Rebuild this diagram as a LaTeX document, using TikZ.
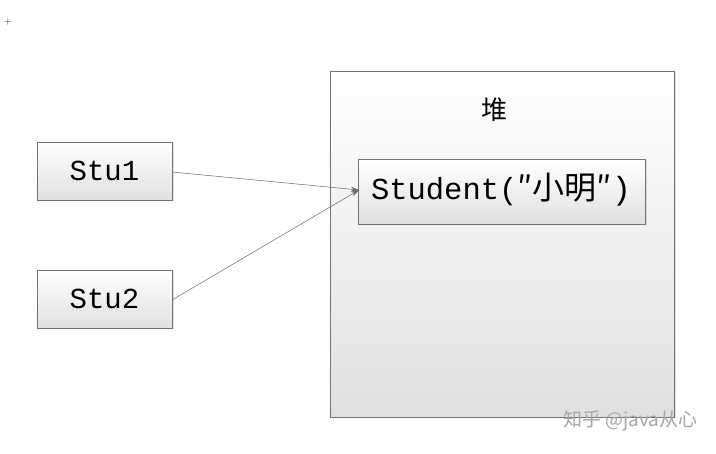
\documentclass[tikz,border=0pt]{standalone}
\usepackage{fontspec}
\setmonofont{Liberation Mono}
\newfontfamily\cjk{Noto Sans CJK SC}
\usetikzlibrary{shadows,arrows.meta}
\begin{document}
\begin{tikzpicture}[x=1pt,y=-1pt,
  gbox/.style={draw=black!55,line width=0.6pt,top color=white,bottom color=black!12,
    drop shadow={shadow xshift=1.5pt,shadow yshift=-1.5pt,opacity=0.25},inner sep=0pt},
  lbl/.style={font=\ttfamily\fontsize{29}{31}\selectfont},
  arr/.style={draw=black!60,line width=0.5pt,-{Stealth[length=8pt,width=5pt]}}]
\useasboundingbox[fill=white] (0,0) rectangle (716,454);
\node[text=blue!60!black,font=\fontsize{10}{10}\selectfont] (plus) at (8,22) {+};
\draw[gbox] (330,71) rectangle (674,417);
\node[font=\cjk\fontsize{26}{28}\selectfont] (heap) at (494,110) {堆};
\draw[gbox] (37,142) rectangle (172,200);
\node[lbl] (s1) at (104.5,171) {Stu1};
\draw[gbox] (37,270) rectangle (172,328);
\node[lbl] (s2) at (104.5,299) {Stu2};
\draw[gbox] (358,159) rectangle (645,224);
\node[lbl,font=\ttfamily\fontsize{30.5}{32}\selectfont] (st) at (501,190) {Student(\cjk\fontsize{32}{34}\selectfont ″小明″\ttfamily)};
\coordinate (a1) at (172,172);
\coordinate (a2) at (172,300);
\coordinate (t) at (359,190);
\draw[arr] (a1) -- (t);
\draw[arr] (a2) -- (t);
\node[font=\cjk\fontsize{19}{21}\selectfont,text=black!35,anchor=east] (wm) at (701,421) {知乎 @java从心};
\end{tikzpicture}
\end{document}
